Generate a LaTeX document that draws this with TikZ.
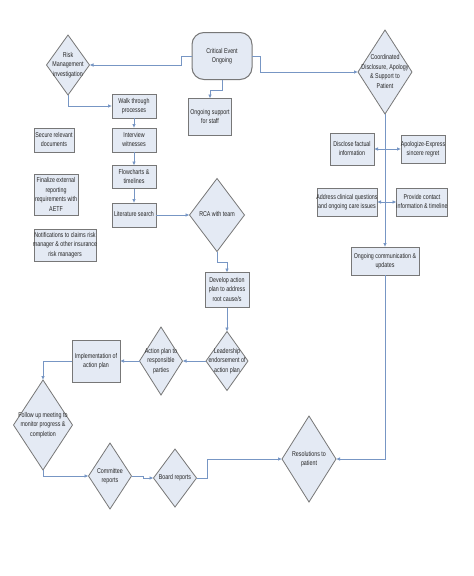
\documentclass[tikz,border=0pt]{standalone}
\usepackage{fontspec}
\setmainfont{Liberation Sans}[FakeStretch=0.76]
\usetikzlibrary{shapes.geometric,arrows.meta}
\definecolor{fillc}{HTML}{E4EAF4}
\definecolor{edgec}{HTML}{777777}
\definecolor{linec}{HTML}{7796C4}
\newcommand{\zc}[1]{\hbox to 0pt{\hss\vbox to 0pt{\vss\hbox{\begin{tabular}{@{}c@{}}#1\end{tabular}}\vss}\hss}}
\tikzset{
  base/.style={draw=edgec, fill=fillc, line width=0.9pt, inner sep=0pt, outer sep=0pt, font=\fontsize{7}{10.3}\selectfont, text=black!85},
  boxn/.style={base, rectangle, line width=1pt},
  dia/.style={base, diamond, line width=0.8pt},
  conn/.style={draw=linec, line width=0.8pt, -{Latex[length=4pt,width=3.6pt]}},
  conn2/.style={draw=linec, line width=0.8pt, {Latex[length=4pt,width=3.6pt]}-{Latex[length=4pt,width=3.6pt]}}
}
\renewcommand{\arraystretch}{0.92}
\begin{document}
\begin{tikzpicture}[x=1pt,y=-1pt]
\useasboundingbox (0,0) rectangle (474,576);
\fill[white] (0,0) rectangle (474,576);
% nodes
\node[boxn, rounded corners=12pt, minimum width=60pt, minimum height=47pt] (crit) at (222,56) {\zc{Critical Event\\Ongoing}};
\node[dia, minimum width=43pt, minimum height=60pt] (risk) at (68,65) {\zc{Risk\\Management\\investigation}};
\node[boxn, minimum width=43pt, minimum height=37pt] (staff) at (210,117) {\zc{Ongoing support\\for staff}};
\node[dia, minimum width=54pt, minimum height=84pt] (coord) at (385,72) {\zc{Coordinated\\Disclosure, Apology\\\& Support to\\Patient}};
\node[boxn, minimum width=44pt, minimum height=24pt] (walk) at (134,106) {\zc{Walk through\\processes}};
\node[boxn, minimum width=44pt, minimum height=24pt] (interview) at (134,140) {\zc{Interview\\witnesses}};
\node[boxn, minimum width=40pt, minimum height=24pt] (secure) at (54,140) {\zc{Secure relevant\\documents}};
\node[boxn, minimum width=44pt, minimum height=23pt] (flow) at (134,177) {\zc{Flowcharts \&\\timelines}};
\node[boxn, minimum width=44pt, minimum height=24pt] (lit) at (134,215) {\zc{Literature search}};
\node[boxn, minimum width=44pt, minimum height=41pt] (final) at (56,195) {\zc{Finalize external\\reporting\\requirements with\\AETF}};
\node[boxn, minimum width=62pt, minimum height=32pt] (notif) at (65,245) {\zc{Notifications to claims risk\\manager \& other insurance\\risk managers}};
\node[dia, minimum width=55pt, minimum height=73pt] (rca) at (217,215) {\zc{RCA with team}};
\node[boxn, minimum width=44pt, minimum height=35pt] (develop) at (227,290) {\zc{Develop action\\plan to address\\root cause/s}};
\node[dia, minimum width=42pt, minimum height=59pt] (lead) at (227,361) {\zc{Leadership\\endorsement of\\action plan}};
\node[dia, minimum width=43pt, minimum height=68pt] (actp) at (161,361) {\zc{Action plan to\\responsible\\parties}};
\node[boxn, minimum width=48pt, minimum height=42pt] (impl) at (96,361) {\zc{Implementation of\\action plan}};
\node[dia, minimum width=59pt, minimum height=90pt] (follow) at (43,425) {\zc{Follow up meeting to\\monitor progress \&\\completion}};
\node[dia, minimum width=43pt, minimum height=66pt] (comm) at (110,476) {\zc{Committee\\reports}};
\node[dia, minimum width=43pt, minimum height=58pt] (board) at (175,478) {\zc{Board reports}};
\node[dia, minimum width=54pt, minimum height=86pt] (resol) at (309,459) {\zc{Resolutions to\\patient}};
\node[boxn, minimum width=44pt, minimum height=32pt] (disc) at (352,149) {\zc{Disclose factual\\information}};
\node[boxn, minimum width=44pt, minimum height=28pt] (apol) at (423,149) {\zc{Apologize-Express\\sincere regret}};
\node[boxn, minimum width=60pt, minimum height=28pt] (addr) at (347,202) {\zc{Address clinical questions\\and ongoing care issues}};
\node[boxn, minimum width=51pt, minimum height=28pt] (prov) at (422,202) {\zc{Provide contact\\information \& timeline}};
\node[boxn, minimum width=68pt, minimum height=28pt] (ongo) at (385,261) {\zc{Ongoing communication \&\\updates}};
% connectors
\draw[conn] (crit.west) -- ++(-11,0) |- (risk.east);
\draw[conn] (crit.south) -- ++(0,11) -| (staff.north);
\draw[conn] (crit.east) -- ++(8,0) |- (coord.west);
\draw[conn] (risk.south) |- (walk.west);
\draw[conn] (walk.south) -- (interview.north);
\draw[conn] (interview.south) -- (flow.north);
\draw[conn] (flow.south) -- (lit.north);
\draw[conn] (lit.east) -- (rca.west);
\draw[conn] (rca.south) -- ++(0,11) -| (develop.north);
\draw[conn] (develop.south) -- (lead.north);
\draw[conn] (lead.west) -- (actp.east);
\draw[conn] (actp.west) -- (impl.east);
\draw[conn] (impl.west) -| (follow.north);
\draw[conn] (follow.south) |- (comm.west);
\draw[conn] (comm.east) -- ++(12,0) |- (board.west);
\draw[conn] (board.east) -- ++(11,0) |- (resol.west);
\draw[conn] (coord.south) -- (ongo.north);
\draw[conn] (ongo.south) |- (resol.east);
\draw[conn2] (disc.east) -- (apol.west);
\draw[conn2] (addr.east) -- (prov.west);
\end{tikzpicture}
\end{document}
